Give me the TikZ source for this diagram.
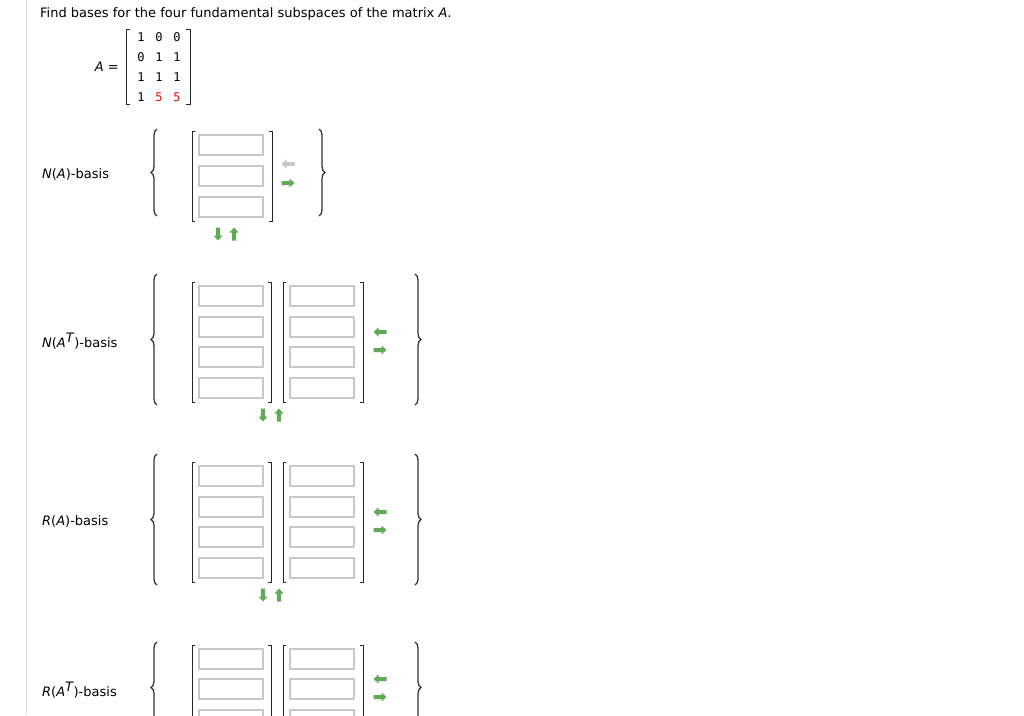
\documentclass[tikz,border=0pt]{standalone}
\usepackage{fontspec}
\setmainfont{DejaVu Sans}
\newfontfamily\monof{DejaVu Sans Mono}
\usetikzlibrary{decorations.pathreplacing}
\definecolor{grn}{RGB}{95,170,85}
\definecolor{gry}{RGB}{200,200,200}
\tikzset{
  x=1pt,y=-1pt,
  txt/.style={font=\fontsize{13}{15}\selectfont,inner sep=0,anchor=west},
  ent/.style={font=\monof\fontsize{12}{14}\selectfont,inner sep=0},
  inbox/.style={draw=gry,line width=1.2pt},
  brk/.style={line width=1pt,draw=black!85},
  brc/.style={decorate,decoration={brace,amplitude=6pt},line width=1.3pt,draw=black!80},
  pics/rarr/.style={code={\fill[#1] (-6.5,-2)--(1.5,-2)--(1.5,-4.5)--(6.5,0)--(1.5,4.5)--(1.5,2)--(-6.5,2)--cycle;}},
  pics/larr/.style={code={\fill[#1] (6.5,-2)--(-1.5,-2)--(-1.5,-4.5)--(-6.5,0)--(-1.5,4.5)--(-1.5,2)--(6.5,2)--cycle;}},
  pics/darr/.style={code={\fill[#1] (-2,-6.5)--(-2,1.5)--(-4.5,1.5)--(0,6.5)--(4.5,1.5)--(2,1.5)--(2,-6.5)--cycle;}},
  pics/uarr/.style={code={\fill[#1] (-2,6.5)--(-2,-1.5)--(-4.5,-1.5)--(0,-6.5)--(4.5,-1.5)--(2,-1.5)--(2,6.5)--cycle;}},
}
\newcommand{\vecbr}[4]{% xleft xright ytop ybottom
  \draw[brk] (#1+3,#3)--(#1,#3)--(#1,#4)--(#1+3,#4);
  \draw[brk] (#2-3,#3)--(#2,#3)--(#2,#4)--(#2-3,#4);}
\begin{document}
\begin{tikzpicture}
\useasboundingbox (0,0) rectangle (1024,715);
\fill[white] (0,0) rectangle (1024,715);
\draw[black!12,line width=1pt] (26,0)--(26,715);
\node[txt] (title) at (40,14) {Find bases for the four fundamental subspaces of the matrix \textit{A}.};
% matrix
\node[txt,anchor=east] (Aeq) at (119,67) {\textit{A} =};
\draw[brk] (130,29)--(126,29)--(126,104)--(130,104);
\draw[brk] (186,29)--(190,29)--(190,104)--(186,104);
\node[ent] (m11) at (141,37) {1};\node[ent] (m12) at (159,37) {0};\node[ent] (m13) at (177,37) {0};
\node[ent] (m21) at (141,57) {0};\node[ent] (m22) at (159,57) {1};\node[ent] (m23) at (177,57) {1};
\node[ent] (m31) at (141,77) {1};\node[ent] (m32) at (159,77) {1};\node[ent] (m33) at (177,77) {1};
\node[ent] (m41) at (141,97) {1};\node[ent,red] (m42) at (159,97) {5};\node[ent,red] (m43) at (177,97) {5};
% N(A)
\node[txt] (l1) at (42,174) {\textit{N}(\textit{A})-basis};
\draw[brc] (157,216)--(157,129);
\draw[brc] (319,129)--(319,216);
\vecbr{192}{272}{131}{221}
\foreach \y in {135,166,197}{\draw[inbox] (199,\y) rectangle (263,\y+20);}
\pic at (288,164) {larr=gry};
\pic at (288,183) {rarr=grn};
\pic at (218,234) {darr=grn};
\pic at (234,234) {uarr=grn};
% two 4x2 blocks
\foreach \o/\lab in {0/{\textit{N}(\textit{A}$^{\textit{T}}$)-basis},180/{\textit{R}(\textit{A})-basis}}{
  \begin{scope}[yshift=-\o pt]
  \node[txt] at (42,341) {\lab};
  \draw[brc] (157,405)--(157,274);
  \draw[brc] (415,274)--(415,405);
  \vecbr{192}{271}{282}{402}
  \vecbr{283}{363}{282}{402}
  \foreach \y in {286,317,347,378}{
    \draw[inbox] (199,\y) rectangle (263,\y+20);
    \draw[inbox] (290,\y) rectangle (354,\y+20);}
  \pic at (380,332) {larr=grn};
  \pic at (380,350) {rarr=grn};
  \pic at (263,415) {darr=grn};
  \pic at (279,415) {uarr=grn};
  \end{scope}}
% R(A^T) block (3 rows)
\node[txt] (l4) at (42,690) {\textit{R}(\textit{A}$^{\textit{T}}$)-basis};
\draw[brc] (157,733)--(157,642);
\draw[brc] (415,642)--(415,733);
\vecbr{192}{271}{645}{740}
\vecbr{283}{363}{645}{740}
\foreach \y in {649,679,710}{
  \draw[inbox] (199,\y) rectangle (263,\y+20);
  \draw[inbox] (290,\y) rectangle (354,\y+20);}
\pic at (380,679) {larr=grn};
\pic at (380,697) {rarr=grn};
\end{tikzpicture}
\end{document}
